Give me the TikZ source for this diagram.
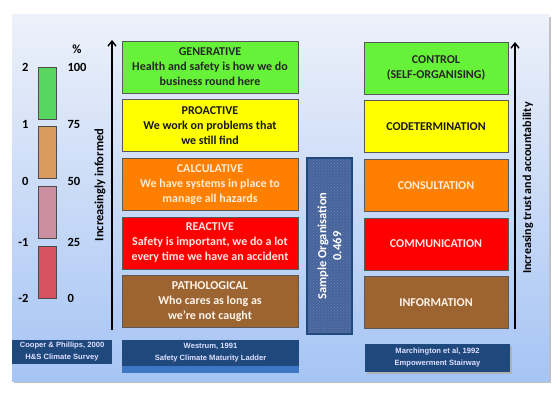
\documentclass[tikz,border=0pt]{standalone}
\usepackage{fontspec}
\setmainfont{Carlito}
\newfontfamily\arialfont{Liberation Sans}
\usetikzlibrary{arrows.meta,patterns}
\definecolor{lvlGreen}{RGB}{102,242,56}
\definecolor{lvlYellow}{RGB}{255,255,0}
\definecolor{lvlOrange}{RGB}{255,128,0}
\definecolor{lvlRed}{RGB}{255,0,0}
\definecolor{lvlBrown}{RGB}{156,100,49}
\definecolor{barGreen}{RGB}{88,214,96}
\definecolor{barOrange}{RGB}{217,155,96}
\definecolor{barPink}{RGB}{203,142,160}
\definecolor{barRed}{RGB}{214,82,96}
\definecolor{refNavy}{RGB}{31,73,125}
\definecolor{refBand}{RGB}{60,118,196}
\definecolor{sampleBlue}{RGB}{70,100,156}
\definecolor{panelTop}{RGB}{237,241,250}
\definecolor{panelBot}{RGB}{166,196,244}
\definecolor{lightTxt}{RGB}{255,236,214}
\begin{document}
\begin{tikzpicture}[x=1pt,y=-1pt,
  rung/.style={draw=black!65,line width=0.6pt,minimum width=176,minimum height=52,align=center,
    inner sep=1pt,font=\bfseries\fontsize{12}{15}\selectfont},
  stair/.style={rung,minimum width=144},
  bar/.style={draw=black!70,line width=0.6pt,minimum width=18,minimum height=52},
  tick/.style={font=\bfseries\fontsize{12.5}{14}\selectfont},
  trend/.style={-{Straight Barb[length=5pt,width=8pt]},line width=1.4pt},
  ref/.style={fill=refNavy,text=white!88!blue,align=center,inner sep=0pt,
    font=\arialfont\bfseries\fontsize{7.6}{12}\selectfont}]
\def\dy{58.6}
\useasboundingbox (0,0) rectangle (560,420);

% background panel
\fill[black!25] (14,17) rectangle (551,383);
\shade[top color=panelTop,bottom color=panelBot] (12,15) rectangle (549,381);

% climate survey bars
\node[tick] (pct) at (77,49) {\%};
\node[bar,fill=barGreen] (b1) at (47,93) {};
\node[bar,fill=barOrange] (b2) at (47,152) {};
\node[bar,fill=barPink] (b3) at (47,212) {};
\node[bar,fill=barRed] (b4) at (47,272) {};
\foreach \s/\p/\y [count=\i] in {2/100/67,1/75/124,0/50/181,-1/25/242,-2/0/298}{
  \node[tick,anchor=east] (s\i) at (32,\y) {\s};
  \node[tick,anchor=west] (p\i) at (64,\y) {\p};
}

% maturity ladder
\coordinate (infoBot) at (112,330);
\coordinate (infoTop) at (112,40);
\draw[trend] (infoBot) -- (infoTop);
\node[tick,rotate=90] (informed) at (100,185) {Increasingly informed};

\node[rung,fill=lvlGreen,text=black!85] (gen) at (210,67) {GENERATIVE\\Health and safety is how we do\\business round here};
\node[rung,fill=lvlYellow,text=black!90] (pro) at (210,67+\dy) {PROACTIVE\\We work on problems that\\we still find};
\node[rung,fill=lvlOrange,text=lightTxt] (calc) at (210,67+2*\dy) {CALCULATIVE\\We have systems in place to\\manage all hazards};
\node[rung,fill=lvlRed,text=white!90!red] (rea) at (210,67+3*\dy) {REACTIVE\\Safety is important, we do a lot\\every time we have an accident};
\node[rung,fill=lvlBrown,text=white!92!orange] (path) at (210,67+4*\dy) {PATHOLOGICAL\\Who cares as long as\\we’re not caught};

% sample organisation
\node[draw=refNavy,line width=1.2pt,fill=sampleBlue,minimum width=45,minimum height=176] (sample) at (329.5,246) {};
\fill[pattern=crosshatch dots,pattern color=white!18!sampleBlue] (308,159) rectangle (351,333);
\node[rotate=90,text=white,align=center,font=\bfseries\fontsize{12.5}{15}\selectfont] (sampleTxt) at (sample.center) {Sample Organisation\\0.469};

% empowerment stairway
\node[stair,fill=lvlGreen,text=black!85] (ctrl) at (436,68) {CONTROL\\(SELF-ORGANISING)};
\node[stair,fill=lvlYellow,text=black!90] (codet) at (436,68+\dy) {CODETERMINATION};
\node[stair,fill=lvlOrange,text=lightTxt] (cons) at (436,68+2*\dy) {CONSULTATION};
\node[stair,fill=lvlRed,text=white!90!red] (comm) at (436,68+3*\dy) {COMMUNICATION};
\node[stair,fill=lvlBrown,text=white!92!orange] (info) at (436,68+4*\dy) {INFORMATION};

\coordinate (trustBot) at (515,329);
\coordinate (trustTop) at (515,42);
\draw[trend] (trustBot) -- (trustTop);
\node[tick,rotate=90,font=\bfseries\fontsize{12}{14}\selectfont] (trust) at (528,188) {Increasing trust and accountability};

% sources
\node[ref,minimum width=100,minimum height=24] (cooper) at (62,352) {Cooper \& Phillips, 2000\\H\&S Climate Survey};
\fill[refBand] (122,340) rectangle (299,373);
\node[ref,minimum width=177,minimum height=26] (westrum) at (210.5,353) {Westrum, 1991\\Safety Climate Maturity Ladder};
\fill[black!30] (367,346) rectangle (512,374);
\node[ref,minimum width=145,minimum height=28] (march) at (437.5,358) {Marchington et al, 1992\\Empowerment Stairway};
\end{tikzpicture}
\end{document}
